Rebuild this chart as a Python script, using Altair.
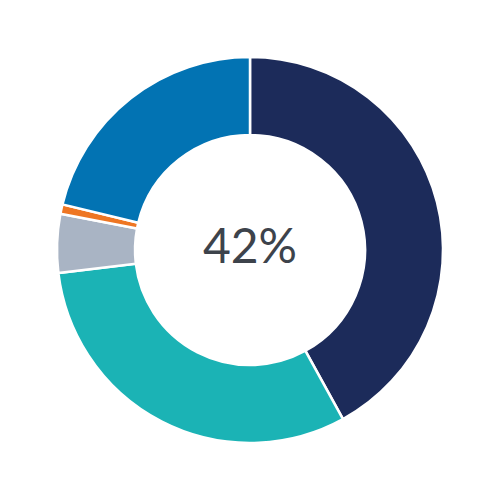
import pandas as pd
import altair as alt

segments = ["Navy", "Teal", "Gray", "Orange", "Blue"]
shares = [42.0, 31.1, 4.9, 0.8, 21.2]
colours = ["#1c2b5a", "#1bb3b5", "#a9b4c4", "#ee7623", "#0273b3"]
centre_label = "42%"

df = pd.DataFrame({"segment": segments, "share": shares, "rank": range(len(segments))})

ring = alt.Chart(df).mark_arc(
    outerRadius=193, innerRadius=115, stroke="white", strokeWidth=2.5
).encode(
    theta=alt.Theta("share:Q", stack=True),
    color=alt.Color("segment:N", scale=alt.Scale(domain=segments, range=colours), legend=None),
    order=alt.Order("rank:O"),
)

label = alt.Chart(pd.DataFrame({"txt": [centre_label]})).mark_text(
    font="Lato", fontSize=48, color="#3d434b", align="center", baseline="alphabetic"
).encode(
    text="txt:N",
    x=alt.value(242),
    y=alt.value(255),
)

chart = (ring + label).properties(width=484, height=484, padding=0).configure_view(stroke=None)

chart.save("out.html", embed_options={"renderer": "svg", "actions": False})
